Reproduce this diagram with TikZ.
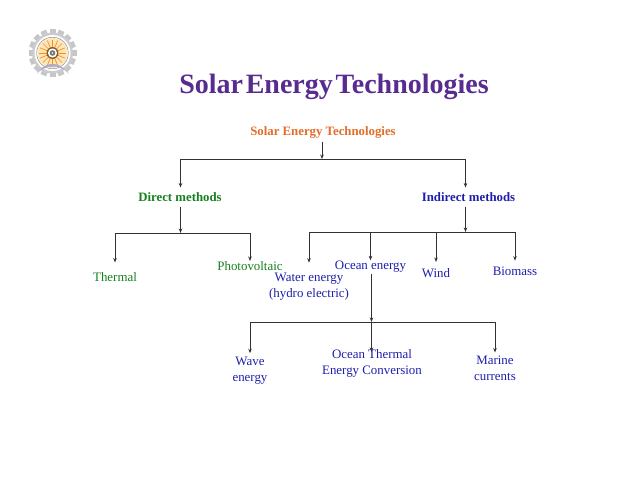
\documentclass[tikz,border=0pt]{standalone}
\usepackage{fontspec}
\setmainfont{Liberation Serif}
\newfontfamily\titlefont[WordSpace=0.4]{Liberation Serif}
\usetikzlibrary{arrows.meta}
\definecolor{titlepurple}{RGB}{88,44,142}
\definecolor{rootorange}{RGB}{226,108,40}
\definecolor{directgreen}{RGB}{22,128,30}
\definecolor{indirectblue}{RGB}{30,30,170}
\definecolor{linegray}{RGB}{50,50,50}
\tikzstyle{heading} = [font=\bfseries\fontsize{12.8}{15}\selectfont, inner sep=2pt]
\tikzstyle{leaf} = [font=\fontsize{12.9}{16.3}\selectfont, align=center, inner sep=1pt]
\tikzstyle{arrow} = [line width=1pt,linegray,-{Stealth[length=4.5pt,width=3.5pt]}]
\begin{document}
\begin{tikzpicture}[x=1pt,y=-1pt]

    \useasboundingbox (0,0) rectangle (638,493);

    % logo
    \foreach \a in {0,22.5,...,337.5} {
        \fill[gray!45, rotate around={\a:(52.5,53)}] (49.5,29) rectangle (55.5,35);
    }
    \fill[gray!40] (52.5,53) circle (20.5);
    \fill[white] (52.5,53) circle (18);
    \draw[black!55, thin] (52.5,53) circle (15.8);
    \fill[yellow!30!orange!25] (52.5,53) circle (15);
    \foreach \a in {0,22.5,...,337.5} {
        \draw[orange!90, line width=.7pt] (52.5,53) ++(\a:6) -- ++(\a:7.5);
    }
    \fill[brown!70!black] (52.5,53) circle (6);
    \fill[white] (52.5,53) circle (4.6);
    \fill[black!55] (52.5,53) circle (2.8);
    \fill[white] (52.5,53) circle (.9);
    \fill[blue!30!gray!50] (39,71) arc (215:325:16.5) -- (69,74) arc (320:220:21) -- cycle;

    \node[font=\titlefont\bfseries\fontsize{28}{34}\selectfont, titlepurple, inner sep=0pt] (title) at (334,87) {Solar Energy Technologies};

    \node[heading, rootorange, outer sep=2pt] (root) at (323,132) {Solar Energy Technologies};
    \node[heading, directgreen, outer sep=3pt] (direct) at (180,197) {Direct methods};
    \node[heading, indirectblue, outer sep=3pt] (indirect) at (468.5,197) {Indirect methods};

    \node[leaf, directgreen, outer sep=9pt] (thermal) at (115,277) {Thermal};
    \node[leaf, directgreen, outer sep=0pt] (pv) at (250,266.5) {Photovoltaic};

    \node[leaf, indirectblue, outer sep=9.5pt] (water) at (309,287) {Water energy\\(hydro electric)};
    \node[leaf, indirectblue, outer sep=0pt] (ocean) at (370.5,267) {Ocean energy};
    \node[leaf, indirectblue, outer sep=6pt] (wind) at (436,273.5) {Wind};
    \node[leaf, indirectblue, outer sep=5pt] (biomass) at (515,271) {Biomass};

    \node[leaf, indirectblue, outer sep=3pt] (wave) at (250,371) {Wave\\energy};
    \node[leaf, indirectblue, outer sep=-3.5pt] (otec) at (372,363.5) {Ocean Thermal\\Energy Conversion};
    \node[leaf, indirectblue, outer sep=2pt] (marine) at (495,368) {Marine\\currents};

    \coordinate (rootbus) at (322,159);
    \coordinate (directbus) at (180.5,233);
    \coordinate (indirectbus) at (465.5,232);
    \coordinate (oceanbus) at (371.5,322);

    \draw [arrow] (root.south -| rootbus) -- (rootbus);
    \draw [arrow] (rootbus) -| (direct.north -| directbus);
    \draw [arrow] (rootbus) -| (indirect.north -| indirectbus);

    \draw [arrow] (direct.south -| directbus) -- (directbus);
    \draw [arrow] (directbus) -| (thermal);
    \draw [arrow] (directbus) -| (pv);

    \draw [arrow] (indirect.south -| indirectbus) -- (indirectbus);
    \draw [arrow] (indirectbus) -| (water);
    \draw [arrow] (indirectbus) -| (ocean);
    \draw [arrow] (indirectbus) -| (wind);
    \draw [arrow] (indirectbus) -| (biomass);

    \draw [arrow] (ocean.south -| oceanbus) -- (oceanbus);
    \draw [arrow] (oceanbus) -| (wave);
    \draw [arrow] (oceanbus) -- (otec.north -| oceanbus);
    \draw [arrow] (oceanbus) -| (marine);

\end{tikzpicture}
\end{document}
